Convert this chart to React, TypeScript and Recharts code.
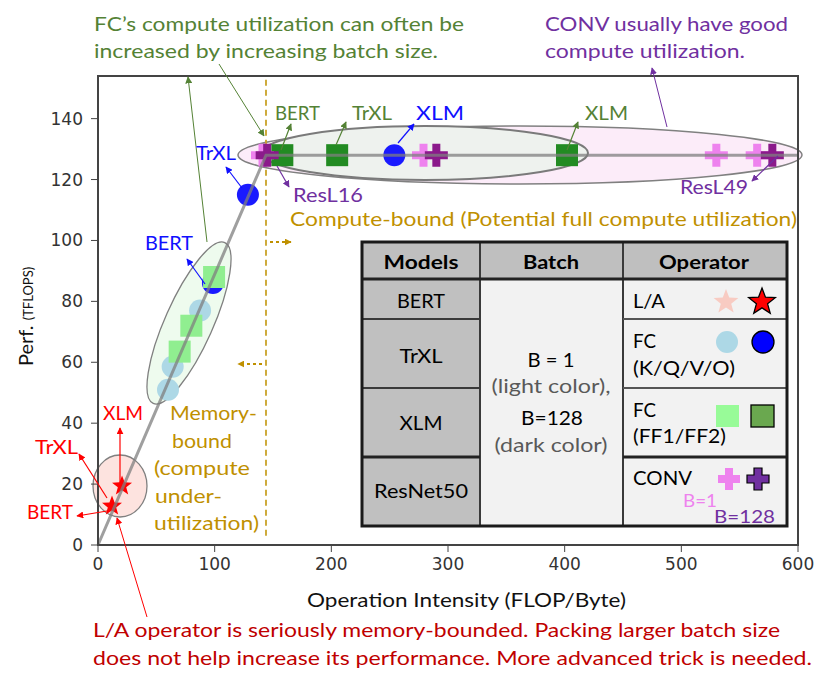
import React from 'react';
import { ScatterChart, Scatter, XAxis, YAxis, ReferenceLine } from 'recharts';

// axis ticks
const xTicks = [0, 100, 200, 300, 400, 500, 600];
const yTicks = [0, 20, 40, 60, 80, 100, 120, 140];

// roofline: memory-bound slope, then flat compute roof
const roofline = [
  { x: 0, y: 0 },
  { x: 144, y: 128 },
  { x: 600, y: 128 },
];

// L/A operator (B=128)
const laB128 = [
  { x: 20.6, y: 19.4 },
  { x: 12, y: 12.8 },
];
// FC K/Q/V/O
const fcAttnB1 = [
  { x: 60, y: 51 },
  { x: 64, y: 58.5 },
  { x: 87.5, y: 77 },
];
const fcAttnB128 = [
  { x: 98.5, y: 86 },
  { x: 128.5, y: 115 },
  { x: 254, y: 128 },
];
// FC FF1/FF2
const fcFfB1 = [
  { x: 70, y: 63.5 },
  { x: 80, y: 72 },
  { x: 99.5, y: 88 },
];
const fcFfB128 = [
  { x: 158, y: 128 },
  { x: 205, y: 128 },
  { x: 402, y: 128 },
];
// CONV (ResNet50)
const convB1 = [
  { x: 141, y: 128 },
  { x: 279, y: 128 },
  { x: 530, y: 128 },
  { x: 565, y: 128 },
];
const convB128 = [
  { x: 145, y: 128 },
  { x: 290, y: 128 },
  { x: 578, y: 128 },
];

const FONT = "Lato, 'Open Sans', sans-serif";
const GREEN = '#548235';
const BLUE = '#1010ff';
const PURPLE = '#7030a0';
const RED = '#ff0000';
const GOLD = '#bf9000';

const starPoints = (cx: number, cy: number, R: number) => {
  const pts: string[] = [];
  for (let i = 0; i < 10; i++) {
    const r = i % 2 === 0 ? R : R * 0.42;
    const a = -Math.PI / 2 + (i * Math.PI) / 5;
    pts.push(`${cx + r * Math.cos(a)},${cy + r * Math.sin(a)}`);
  }
  return pts.join(' ');
};

const crossPath = (cx: number, cy: number, a: number, b: number) =>
  `M${cx - b},${cy - a} H${cx + b} V${cy - b} H${cx + a} V${cy + b} H${cx + b} V${cy + a} H${cx - b} V${cy + b} H${cx - a} V${cy - b} H${cx - b} Z`;

const circleShape = (fill: string) => (p: any) => <circle cx={p.cx} cy={p.cy} r={11} fill={fill} />;
const squareShape = (fill: string) => (p: any) => (
  <rect x={p.cx - 11} y={p.cy - 11} width={22} height={22} fill={fill} />
);
const crossShape = (fill: string) => (p: any) => <path d={crossPath(p.cx, p.cy, 11.5, 4)} fill={fill} />;
const starShape = (fill: string) => (p: any) => <polygon points={starPoints(p.cx, p.cy, 10.5)} fill={fill} />;
const noShape = () => <g />;

const T = ({ x, y, w, s = 19, c = '#000', anchor = 'start', weight = 'normal', children }: any) => (
  <text
    x={x}
    y={y}
    fontSize={s}
    fill={c}
    fontFamily={FONT}
    textAnchor={anchor}
    fontWeight={weight}
    textLength={w}
    lengthAdjust="spacingAndGlyphs"
  >
    {children}
  </text>
);

const Arrow = ({ x1, y1, x2, y2, c, w = 1.2, dash }: any) => (
  <line
    x1={x1}
    y1={y1}
    x2={x2}
    y2={y2}
    stroke={c}
    strokeWidth={w}
    strokeDasharray={dash}
    markerEnd={`url(#ah-${c.slice(1)})`}
  />
);

const arrowColors = [GREEN, BLUE, PURPLE, RED, GOLD];

const Underlay = () => (
  <svg width={822} height={682} style={{ position: 'absolute', left: 0, top: 0 }}>
    <ellipse cx={520} cy={155} rx={282} ry={29} fill="#fcecf9" stroke="#808080" strokeWidth={1.5} />
    <ellipse cx={425} cy={153} rx={163} ry={27} fill="#eef2ee" stroke="#7a7a7a" strokeWidth={2} />
    <ellipse
      cx={189}
      cy={323}
      rx={88}
      ry={24}
      transform="rotate(-66 189 323)"
      fill="#eefbee"
      stroke="#808080"
      strokeWidth={1.3}
    />
    <ellipse cx={120} cy={486} rx={27} ry={31} fill="#fde3df" stroke="#808080" strokeWidth={1.3} />
  </svg>
);

const Table = () => {
  const L = 362, R = 787, C1 = 480, C2 = 623, Tp = 242, B = 526;
  const hdr = 279, r1 = 319, r2 = 388, r3 = 457;
  return (
    <g>
      <rect x={L} y={Tp} width={R - L} height={hdr - Tp} fill="#bfbfbf" />
      <rect x={L} y={hdr} width={C1 - L} height={B - hdr} fill="#c0c0c0" />
      <rect x={C1} y={hdr} width={C2 - C1} height={B - hdr} fill="#f2f2f2" />
      <rect x={C2} y={hdr} width={R - C2} height={B - hdr} fill="#f2f2f2" />
      {/* inner lines */}
      <line x1={C1} y1={Tp} x2={C1} y2={B} stroke="#3a3a3a" strokeWidth={2} />
      <line x1={C2} y1={Tp} x2={C2} y2={B} stroke="#3a3a3a" strokeWidth={2} />
      <line x1={L} y1={hdr} x2={R} y2={hdr} stroke="#222" strokeWidth={3} />
      <line x1={L} y1={r1} x2={C1} y2={r1} stroke="#3a3a3a" strokeWidth={2} />
      <line x1={L} y1={r2} x2={C1} y2={r2} stroke="#3a3a3a" strokeWidth={2} />
      <line x1={L} y1={r3} x2={C1} y2={r3} stroke="#222" strokeWidth={3} />
      <line x1={C2} y1={r1} x2={R} y2={r1} stroke="#555" strokeWidth={2} />
      <line x1={C2} y1={r2} x2={R} y2={r2} stroke="#555" strokeWidth={2} />
      <line x1={C2} y1={r3} x2={R} y2={r3} stroke="#222" strokeWidth={3} />
      <rect x={L} y={Tp} width={R - L} height={B - Tp} fill="none" stroke="#1a1a1a" strokeWidth={3} />

      <T x={421} y={269} w={75} anchor="middle" weight="bold">Models</T>
      <T x={551} y={269} w={56} anchor="middle" weight="bold">Batch</T>
      <T x={704} y={269} w={90} anchor="middle" weight="bold">Operator</T>

      <T x={421} y={308} w={48} anchor="middle">BERT</T>
      <T x={421} y={363} w={43} anchor="middle">TrXL</T>
      <T x={421} y={430} w={43} anchor="middle">XLM</T>
      <T x={421} y={498} w={94} anchor="middle">ResNet50</T>

      <T x={551} y={367} w={47} anchor="middle">B = 1</T>
      <T x={551} y={393} w={119} anchor="middle" c="#595959">(light color),</T>
      <T x={552} y={425} w={62} anchor="middle">B=128</T>
      <T x={551} y={452} w={113} anchor="middle" c="#595959">(dark color)</T>

      <T x={633} y={308} w={32}>L/A</T>
      <polygon points={starPoints(726, 302, 13)} fill="#f8cbc2" />
      <polygon points={starPoints(762, 302, 14)} fill="#ff0000" stroke="#000" strokeWidth={1.3} />

      <T x={633} y={348} w={23}>FC</T>
      <T x={633} y={375} w={102}>(K/Q/V/O)</T>
      <circle cx={727} cy={342} r={11} fill="#add8e6" />
      <circle cx={763} cy={342} r={11} fill="#0000ff" stroke="#000" strokeWidth={1.3} />

      <T x={633} y={417} w={23}>FC</T>
      <T x={633} y={443} w={93}>(FF1/FF2)</T>
      <rect x={716} y={405} width={23} height={22} fill="#98fb98" />
      <rect x={751} y={405} width={23} height={22} fill="#6aa84f" stroke="#000" strokeWidth={1.3} />

      <T x={633} y={485} w={59}>CONV</T>
      <path d={crossPath(729, 479, 11, 4)} fill="#ee82ee" />
      <path d={crossPath(758, 479, 11, 4)} fill="#7030a0" stroke="#000" strokeWidth={1.2} />
      <T x={683} y={507} w={34} s={17} c="#ee82ee">B=1</T>
      <T x={714} y={523} w={61} s={17} c={PURPLE}>B=128</T>
    </g>
  );
};

const Overlay = () => (
  <svg width={822} height={682} style={{ position: 'absolute', left: 0, top: 0, pointerEvents: 'none' }}>
    <defs>
      {arrowColors.map((c) => (
        <marker
          key={c}
          id={`ah-${c.slice(1)}`}
          viewBox="0 0 10 10"
          refX={9}
          refY={5}
          markerWidth={7}
          markerHeight={7}
          markerUnits="userSpaceOnUse"
          orient="auto"
        >
          <path d="M0,0 L10,5 L0,10 z" fill={c} />
        </marker>
      ))}
    </defs>

    {/* plot frame */}
    <rect x={98} y={76} width={700} height={469} fill="none" stroke="#444" strokeWidth={2} />

    {/* axis titles */}
    <text transform="translate(33,366) rotate(-90)" fontFamily={FONT} fill="#111">
      <tspan fontSize={20}>Perf. </tspan>
      <tspan fontSize={13}>(TFLOPS)</tspan>
    </text>
    <T x={307} y={607} w={319} s={20} c="#111">Operation Intensity (FLOP/Byte)</T>

    {/* top notes */}
    <T x={94} y={31} w={370} s={20} c={GREEN}>FC’s compute utilization can often be</T>
    <T x={94} y={58} w={344} s={20} c={GREEN}>increased by increasing batch size.</T>
    <T x={545} y={31} w={243} s={20} c={PURPLE}>CONV usually have good</T>
    <T x={545} y={58} w={200} s={20} c={PURPLE}>compute utilization.</T>
    <Arrow x1={207} y1={242} x2={188} y2={77} c={GREEN} w={1} />
    <Arrow x1={219} y1={64} x2={264} y2={136} c={GREEN} w={1} />
    <Arrow x1={667} y1={127} x2={652} y2={68} c={PURPLE} w={1} />

    {/* bottom note */}
    <T x={93} y={637} w={687} s={20} c="#c00000">L/A operator is seriously memory-bounded. Packing larger batch size</T>
    <T x={93} y={665} w={719} s={20} c="#c00000">does not help increase its performance. More advanced trick is needed.</T>
    <Arrow x1={147} y1={617} x2={117} y2={518} c={RED} w={1} />

    {/* region labels */}
    <T x={290} y={226} w={507} s={20} c={GOLD}>Compute-bound (Potential full compute utilization)</T>
    <T x={170} y={420} w={87} s={20} c={GOLD}>Memory-</T>
    <T x={172} y={448} w={60} s={20} c={GOLD}>bound</T>
    <T x={154} y={475} w={96} s={20} c={GOLD}>(compute</T>
    <T x={155} y={503} w={67} s={20} c={GOLD}>under-</T>
    <T x={154} y={530} w={105} s={20} c={GOLD}>utilization)</T>
    <Arrow x1={270} y1={242} x2={291} y2={242} c={GOLD} w={2.2} dash="3 3" />
    <Arrow x1={262} y1={364} x2={238} y2={364} c={GOLD} w={2.2} dash="3 3" />

    {/* point labels */}
    <T x={275} y={120} w={45} c={GREEN}>BERT</T>
    <T x={352} y={120} w={40} c={GREEN}>TrXL</T>
    <T x={585} y={120} w={43} c={GREEN}>XLM</T>
    <Arrow x1={281} y1={150} x2={291} y2={124} c={GREEN} />
    <Arrow x1={336} y1={145} x2={346} y2={122} c={GREEN} />
    <Arrow x1={567} y1={150} x2={578} y2={122} c={GREEN} />

    <T x={416} y={120} w={48} c={BLUE}>XLM</T>
    <T x={196} y={160} w={40} c={BLUE}>TrXL</T>
    <T x={145} y={250} w={48} c={BLUE}>BERT</T>
    <Arrow x1={398} y1={143} x2={414} y2={124} c={BLUE} />
    <Arrow x1={242} y1={188} x2={226} y2={167} c={BLUE} />
    <Arrow x1={205} y1={284} x2={187} y2={259} c={BLUE} />

    <T x={293} y={202} w={70} c={PURPLE}>ResL16</T>
    <T x={680} y={194} w={68} c={PURPLE}>ResL49</T>
    <Arrow x1={277} y1={166} x2={289} y2={187} c={PURPLE} />
    <Arrow x1={778} y1={156} x2={752} y2={181} c={PURPLE} />

    <T x={103} y={420} w={40} c={RED}>XLM</T>
    <T x={35} y={454} w={43} c={RED}>TrXL</T>
    <T x={27} y={519} w={46} c={RED}>BERT</T>
    <Arrow x1={120} y1={488} x2={120} y2={428} c={RED} />
    <Arrow x1={107} y1={498} x2={79} y2={454} c={RED} />
    <Arrow x1={107} y1={511} x2={77} y2={516} c={RED} />

    <Table />
  </svg>
);

export default function App() {
  return (
    <div style={{ position: 'absolute', left: 0, top: 0, width: 822, height: 682, background: '#fff' }}>
      <Underlay />
      <div style={{ position: 'absolute', left: 0, top: 0 }}>
        <ScatterChart width={822} height={682} margin={{ top: 76, right: 24, bottom: 107, left: 58 }}>
          <XAxis
            type="number"
            dataKey="x"
            domain={[0, 600]}
            ticks={xTicks}
            tickSize={7}
            tickMargin={6}
            stroke="#444"
            tick={{ fill: '#333', fontSize: 17, fontFamily: 'DejaVu Sans' }}
            height={30}
          />
          <YAxis
            type="number"
            dataKey="y"
            domain={[0, 154]}
            ticks={yTicks}
            tickSize={7}
            tickMargin={8}
            stroke="#444"
            tick={{ fill: '#333', fontSize: 17, fontFamily: 'DejaVu Sans' }}
            width={40}
          />
          <ReferenceLine
            segment={[{ x: 144, y: 3 }, { x: 144, y: 154 }]}
            stroke="#c9a227"
            strokeWidth={1.8}
            strokeDasharray="6 4"
          />
          <Scatter data={fcAttnB1} shape={circleShape('#add8e6')} isAnimationActive={false} />
          <Scatter data={fcAttnB128} shape={circleShape('#1a1aff')} isAnimationActive={false} />
          <Scatter data={fcFfB1} shape={squareShape('#90ee90')} isAnimationActive={false} />
          <Scatter data={fcFfB128} shape={squareShape('#228b22')} isAnimationActive={false} />
          <Scatter data={convB1} shape={crossShape('#ee82ee')} isAnimationActive={false} />
          <Scatter data={convB128} shape={crossShape('#8b1a8b')} isAnimationActive={false} />
          <Scatter data={laB128} shape={starShape('#ff0000')} isAnimationActive={false} />
          <Scatter
            data={roofline}
            shape={noShape}
            line={{ stroke: '#7f7f7f', strokeWidth: 3, strokeOpacity: 0.75 }}
            isAnimationActive={false}
          />
        </ScatterChart>
      </div>
      <Overlay />
    </div>
  );
}
